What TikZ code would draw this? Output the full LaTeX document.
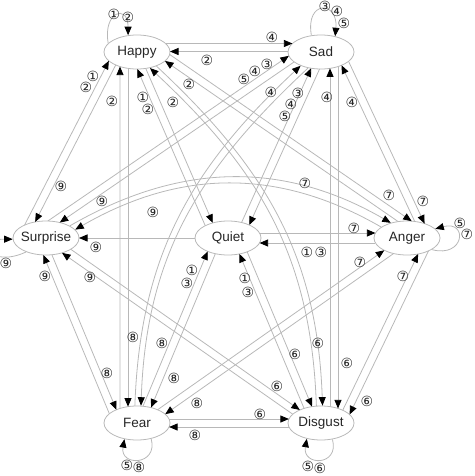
\documentclass[tikz,border=0pt]{standalone}
\usepackage{fontspec}
\setmainfont{Liberation Sans}
\newfontfamily\circfont{DejaVu Sans}
\usetikzlibrary{arrows.meta,calc,intersections,shapes.geometric}
\definecolor{linegray}{gray}{0.72}
\newcounter{lc}
\newcommand\lab[2]{\stepcounter{lc}\node[lbl] (lab\thelc) at (#1) {#2};}
% straight connector from node #2 to node #3, offsets (left of travel) #4 at start, #5 at end
\newcommand\sedge[5][]{%
  \path[name path=tmpl] ($(#2.center)!#4!90:(#3.center)$) -- ($(#3.center)!#5!-90:(#2.center)$);%
  \path[name intersections={of=tmpl and p#2,by=es}];%
  \path[name intersections={of=tmpl and p#3,by=ee}];%
  \draw[edge,#1] (es) -- (ee);%
}
\begin{document}
\begin{tikzpicture}[x=1pt,y=1pt,
  emo/.style={ellipse,draw=linegray,line width=0.8pt,minimum width=66pt,minimum height=34pt,inner sep=0pt,
    font=\fontsize{13.5}{15}\selectfont,text=black!85},
  edge/.style={draw=linegray,line width=0.8pt,-{Triangle[length=8.5pt,width=7pt,color=black]}},
  lbl/.style={inner sep=0pt,font=\circfont\fontsize{14}{14}\selectfont,text=black!85}]
\useasboundingbox (0,0) rectangle (474,-476);

% emotion nodes
\node[emo] (Happy)    at (137,-52)  {\makebox[40pt]{Happy}};
\node[emo] (Sad)      at (321,-52)  {\makebox[40pt]{Sad}};
\node[emo] (Surprise) at (46,-238)  {\makebox[40pt]{Surprise}};
\node[emo] (Quiet)    at (228,-238) {\makebox[40pt]{Quiet}};
\node[emo] (Anger)    at (407,-238) {\makebox[40pt]{Anger}};
\node[emo] (Fear)     at (137,-423) {\makebox[40pt]{Fear}};
\node[emo] (Disgust)  at (321,-423) {\makebox[40pt]{Disgust}};

% outlines used to end the connectors on the ellipses
\path[name path=pHappy]    (137,-52)  ellipse [x radius=33, y radius=17];
\path[name path=pSad]      (321,-52)  ellipse [x radius=33, y radius=17];
\path[name path=pSurprise] (46,-238)  ellipse [x radius=33, y radius=17];
\path[name path=pQuiet]    (228,-238) ellipse [x radius=33, y radius=17];
\path[name path=pAnger]    (407,-238) ellipse [x radius=33, y radius=17];
\path[name path=pFear]     (137,-423) ellipse [x radius=33, y radius=17];
\path[name path=pDisgust]  (321,-423) ellipse [x radius=33, y radius=17];

% outer ring
\sedge{Happy}{Sad}{8.5pt}{8.5pt}
\sedge{Sad}{Happy}{-0.5pt}{-0.5pt}
\sedge{Sad}{Anger}{21pt}{22pt}
\sedge{Anger}{Sad}{-14pt}{-13pt}
\sedge{Anger}{Disgust}{25pt}{22pt}
\sedge{Disgust}{Anger}{-14pt}{-17pt}
\sedge{Disgust}{Fear}{4pt}{4pt}
\sedge{Fear}{Disgust}{4pt}{4pt}
\sedge{Fear}{Surprise}{22pt}{9pt}
\sedge{Surprise}{Fear}{-1pt}{-14pt}
\sedge{Surprise}{Happy}{25pt}{21pt}
\sedge{Happy}{Surprise}{-13pt}{-17pt}
% verticals
\sedge{Fear}{Happy}{17pt}{17pt}
\sedge{Happy}{Fear}{-9pt}{-9pt}
\sedge{Sad}{Disgust}{17pt}{17pt}
\sedge{Disgust}{Sad}{-9pt}{-9pt}
% long diagonals
\sedge{Surprise}{Sad}{13pt}{15pt}
\sedge{Sad}{Surprise}{-7pt}{-5pt}
\sedge{Happy}{Anger}{16.5pt}{16.5pt}
\sedge{Anger}{Happy}{-8.5pt}{-8.5pt}
\sedge{Anger}{Fear}{5pt}{9pt}
\sedge{Fear}{Anger}{-1pt}{3pt}
\sedge{Disgust}{Surprise}{9pt}{3pt}
\sedge{Surprise}{Disgust}{5pt}{-1.5pt}
% spokes of Quiet
\sedge{Quiet}{Happy}{16pt}{6.5pt}
\sedge{Happy}{Quiet}{1.5pt}{-8pt}
\sedge{Quiet}{Sad}{-6pt}{2.3pt}
\sedge{Sad}{Quiet}{5.7pt}{14pt}
\sedge{Quiet}{Fear}{-5.6pt}{7pt}
\sedge{Fear}{Quiet}{1pt}{13.6pt}
\sedge{Quiet}{Disgust}{12.4pt}{-2pt}
\sedge{Disgust}{Quiet}{10pt}{-4.4pt}
\sedge{Quiet}{Anger}{5pt}{5pt}
\sedge{Anger}{Quiet}{5pt}{5pt}
\sedge{Quiet}{Surprise}{0pt}{0pt}

% curved connectors
\draw[edge] (Happy.-36) to[out=-43,in=92,distance=150pt] (Disgust.85);
\draw[edge] (Disgust.105) to[out=92,in=-43,distance=150pt] (Happy.-51);
\draw[edge] (Sad.231) to[out=223,in=88,distance=150pt] (Fear.77);
\draw[edge] (Fear.97) to[out=88,in=223,distance=150pt] (Sad.214);
\draw[edge] (Surprise.27) to[out=30,in=150] (Anger.137);
\draw[edge] (Anger.157) to[out=150,in=30] (Surprise.16);

% loops
\draw[edge] (Happy.163) to[out=100,in=90,distance=32pt] (Happy.118);
\draw[edge] (Sad.120) to[out=100,in=85,distance=36pt] (Sad.48);
\draw[edge] (Surprise.215) to[out=205,in=180,distance=40pt] (Surprise.182);
\draw[edge] (Anger.-25) to[out=-15,in=15,distance=34pt] (Anger.18);
\draw[edge] (Fear.-48) to[out=-75,in=-100,distance=28pt] (Fear.232);
\draw[edge] (Disgust.-55) to[out=-75,in=-100,distance=28pt] (Disgust.228);

% labels of loops
\lab{114,-14}{①}\lab{128,-17}{②}
\lab{325,-6}{③}\lab{337,-11}{④}\lab{344,-23}{⑤}
\lab{6,-263}{⑨}
\lab{460,-223}{⑤}\lab{467,-234}{⑦}
\lab{127,-465}{⑤}\lab{139,-467}{⑧}
\lab{308,-466}{⑤}\lab{320,-468}{⑥}
% labels of connectors into Happy
\lab{207,-60}{②}
\lab{93,-76}{①}\lab{86,-87}{②}
\lab{112,-101}{②}
\lab{143,-97}{①}\lab{148,-109}{②}
\lab{173,-102}{②}
\lab{189,-84}{②}
% into Sad
\lab{272,-37}{④}
\lab{244,-79}{⑤}\lab{255,-71}{④}\lab{267,-64}{③}
\lab{271,-92}{④}
\lab{298,-93}{③}\lab{291,-104}{④}\lab{285,-116}{⑤}
\lab{327,-97}{④}
\lab{352,-102}{④}
% into Surprise
\lab{61,-186}{⑨}
\lab{102,-201}{⑨}
\lab{153,-212}{⑨}
\lab{96,-247}{⑨}
\lab{45,-276}{⑨}
\lab{90,-277}{⑨}
% into Anger
\lab{305,-183}{⑦}
\lab{389,-195}{⑦}
\lab{423,-201}{⑦}
\lab{354,-228}{⑦}
\lab{360,-262}{⑦}
\lab{403,-276}{⑦}
% into Quiet
\lab{307,-252}{①}\lab{321,-252}{③}
\lab{192,-270}{①}\lab{187,-283}{③}
\lab{245,-278}{①}\lab{248,-292}{③}
% into Fear
\lab{107,-373}{⑧}
\lab{133,-337}{⑧}
\lab{162,-343}{⑧}
\lab{174,-378}{⑧}
\lab{197,-403}{⑧}
\lab{195,-435}{⑧}
% into Disgust
\lab{260,-414}{⑥}
\lab{277,-386}{⑥}
\lab{295,-354}{⑥}
\lab{318,-343}{⑥}
\lab{347,-363}{⑥}
\lab{367,-401}{⑥}
\end{tikzpicture}
\end{document}
